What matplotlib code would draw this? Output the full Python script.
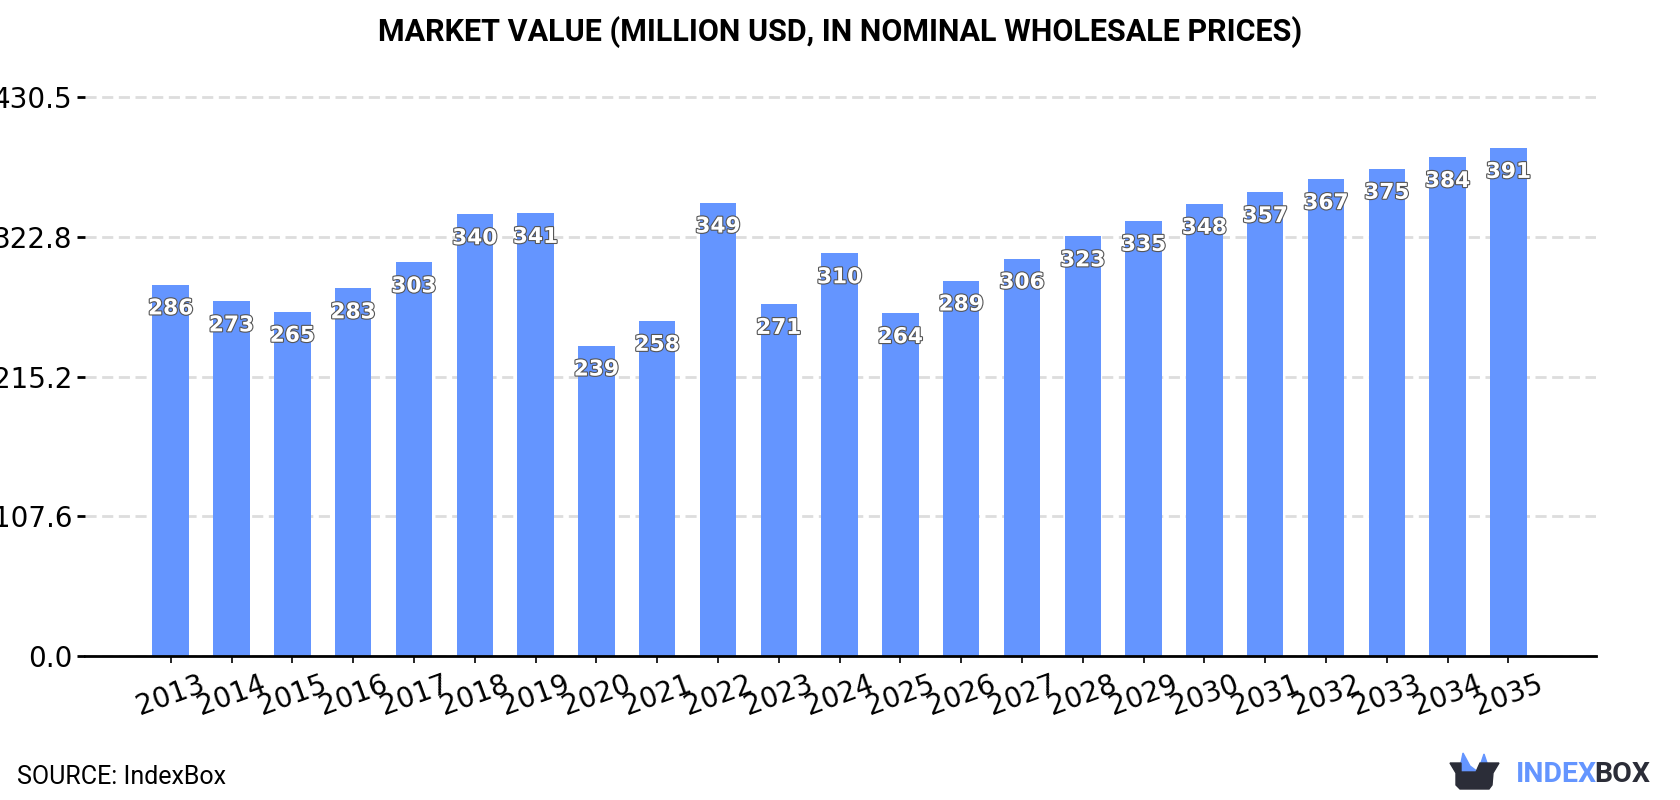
import matplotlib
matplotlib.use('Agg')
import matplotlib.pyplot as plt
import matplotlib.patheffects as pe
from matplotlib.patches import Polygon

# Valores de mercado por año
years = [2013, 2014, 2015, 2016, 2017, 2018, 2019, 2020, 2021, 2022, 2023, 2024,
         2025, 2026, 2027, 2028, 2029, 2030, 2031, 2032, 2033, 2034, 2035]
values = [286, 273, 265, 283, 303, 340, 341, 239, 258, 349, 271, 310,
          264, 289, 306, 323, 335, 348, 357, 367, 375, 384, 391]
y_ticks = [0.0, 107.6, 215.2, 322.8, 430.5]

BLUE = '#6495ff'
DARK = '#2b2d38'

fig = plt.figure(figsize=(16.8, 8), dpi=100)
ax = fig.add_axes([85 / 1680, 1 - 656.3 / 800, (1596 - 85) / 1680, 590 / 800])

positions = list(range(len(years)))
ax.bar(positions, values, width=0.6, color=BLUE, zorder=2)

# Etiquetas con el valor dentro de cada barra
for p, v in zip(positions, values):
    ax.annotate(str(v), (p, v), xytext=(0, -17.2), textcoords='offset points',
                ha='center', va='center', fontsize=15.6, fontweight='bold',
                color='white', zorder=4,
                path_effects=[pe.withStroke(linewidth=1.6, foreground='#555555')])

ax.set_xlim(-1.41, 23.44)
ax.set_ylim(0, 430.5 * 590 / 559.6)
ax.set_xticks(positions)
ax.set_xticklabels([str(y) for y in years], rotation=20, fontsize=20)
ax.set_yticks(y_ticks)
ax.set_yticklabels([f'{t:.1f}' for t in y_ticks], fontsize=20)
ax.tick_params(axis='y', length=6, width=2, pad=3)
ax.tick_params(axis='x', length=5, width=1.2, pad=5)

ax.grid(axis='y', color='#dddddd', linestyle='--', linewidth=2, dashes=(4, 2), zorder=1)
ax.set_axisbelow(True)
for side in ['top', 'right', 'left']:
    ax.spines[side].set_visible(False)
ax.spines['bottom'].set_linewidth(2)

fig.text(840 / 1680, 1 - 32 / 800, 'MARKET VALUE (MILLION USD, IN NOMINAL WHOLESALE PRICES)',
         ha='center', va='center', fontsize=22, fontweight='bold', family='Roboto')
fig.text(17 / 1680, 1 - 777 / 800, 'SOURCE: IndexBox', ha='left', va='center',
         fontsize=18, family='Roboto')

# Logotipo de IndexBox
logo = fig.add_axes([0, 0, 1, 1], facecolor='none')
logo.set_xlim(0, 1680)
logo.set_ylim(800, 0)
logo.axis('off')
logo.add_patch(Polygon([(1461, 763), (1463, 753), (1470, 766), (1478, 772), (1484, 754),
                        (1487, 763), (1487, 775), (1476, 772), (1461, 772)],
                       closed=True, color=BLUE))
logo.add_patch(Polygon([(1450, 763), (1461, 763), (1461, 772), (1476, 772), (1480, 763),
                        (1499, 763), (1493, 773), (1492, 785), (1489, 789), (1460, 789),
                        (1456, 785), (1456, 773)], closed=True, color=DARK))
logo.text(1516, 774, 'INDEX', ha='left', va='center', fontsize=20.5, fontweight='bold',
          color=BLUE, family='Roboto')
logo.text(1594, 774, 'BOX', ha='left', va='center', fontsize=20.5, fontweight='bold',
          color=DARK, family='Roboto')

fig.savefig('out.png', dpi=100)
